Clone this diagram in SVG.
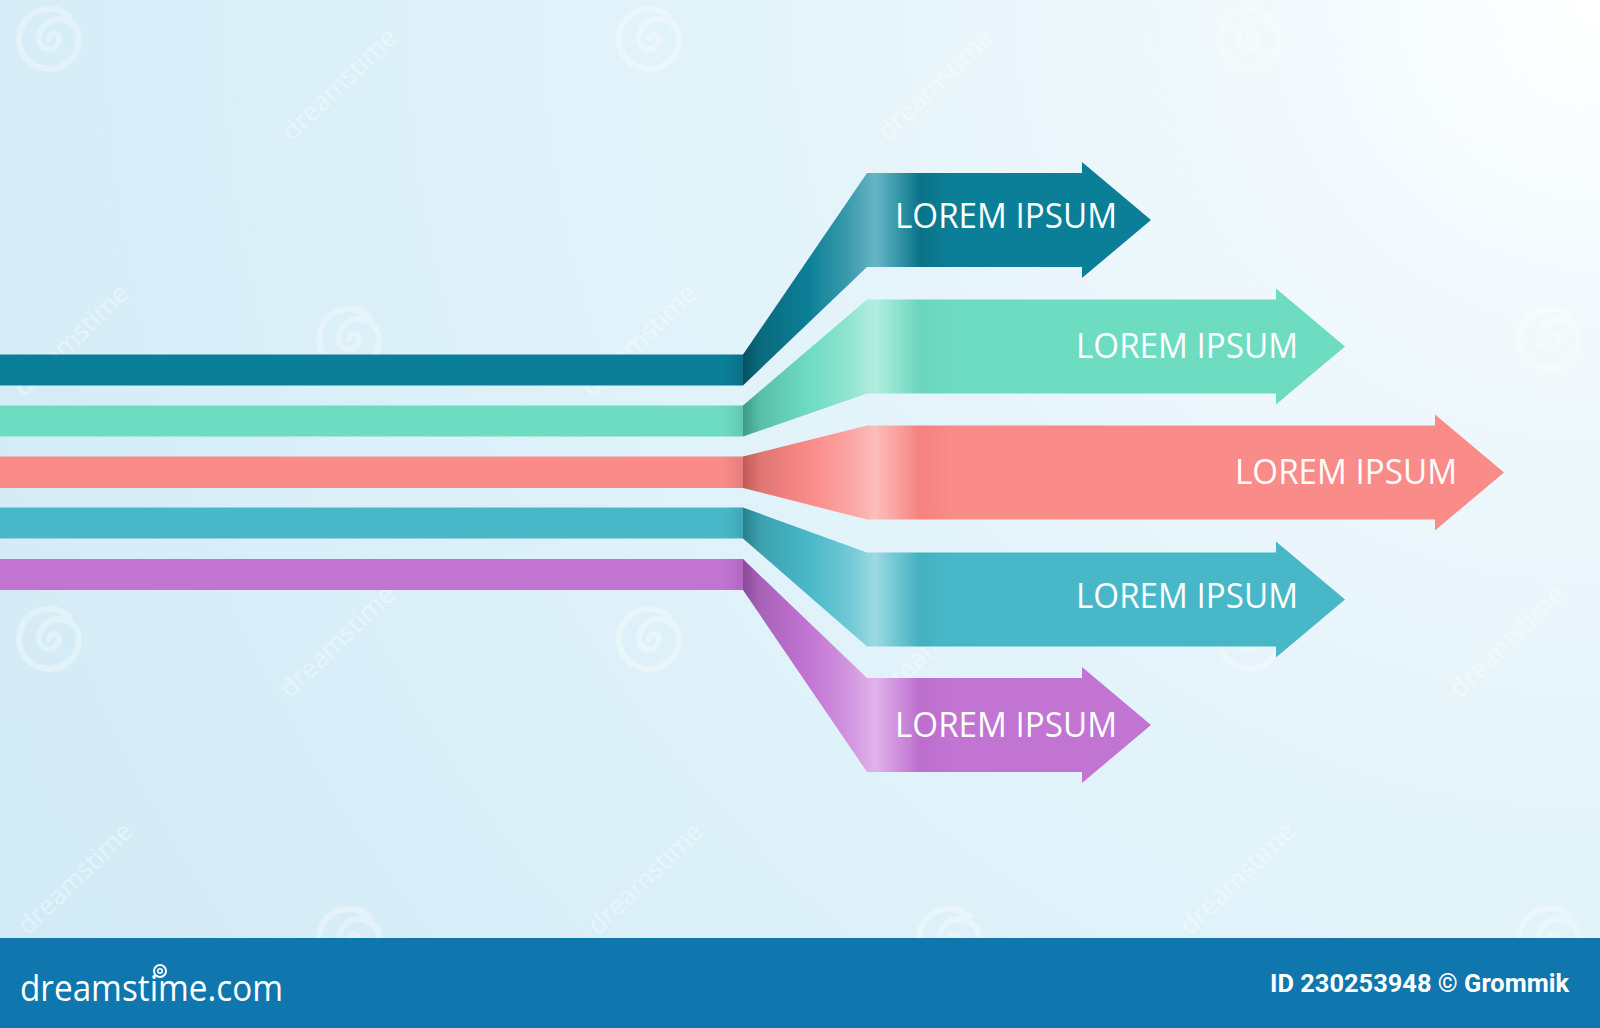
<svg xmlns="http://www.w3.org/2000/svg" width="1600" height="1028" viewBox="0 0 1600 1028">
  <defs>
    <radialGradient id="bg" gradientUnits="userSpaceOnUse" cx="1600" cy="0" r="1900">
      <stop offset="0" stop-color="#ffffff"/>
      <stop offset="0.15" stop-color="#f3fafd"/>
      <stop offset="0.45" stop-color="#e3f3fa"/>
      <stop offset="0.8" stop-color="#d7eef8"/>
      <stop offset="1" stop-color="#d2eaf6"/>
    </radialGradient>
    <linearGradient id="g1" gradientUnits="userSpaceOnUse" x1="0" y1="0" x2="1600" y2="0">
      <stop offset="0" stop-color="#0b7f97"/>
      <stop offset="0.452" stop-color="#0b7f97"/>
      <stop offset="0.4644" stop-color="#0a7087"/>
      <stop offset="0.4644" stop-color="#06505f"/>
      <stop offset="0.475" stop-color="#0a6a7e"/>
      <stop offset="0.505" stop-color="#0b7f97"/>
      <stop offset="0.530" stop-color="#3b9aac"/>
      <stop offset="0.547" stop-color="#67b6c4"/>
      <stop offset="0.560" stop-color="#3b9aac"/>
      <stop offset="0.575" stop-color="#0a7388"/>
      <stop offset="0.595" stop-color="#0b7f97"/>
      <stop offset="1" stop-color="#0b7f97"/>
    </linearGradient>
    <linearGradient id="g2" gradientUnits="userSpaceOnUse" x1="0" y1="0" x2="1600" y2="0">
      <stop offset="0" stop-color="#6edcc1"/>
      <stop offset="0.452" stop-color="#6edcc1"/>
      <stop offset="0.4644" stop-color="#62c8b0"/>
      <stop offset="0.4644" stop-color="#3b9a86"/>
      <stop offset="0.475" stop-color="#58bfa8"/>
      <stop offset="0.505" stop-color="#6edcc1"/>
      <stop offset="0.530" stop-color="#8fe4cf"/>
      <stop offset="0.547" stop-color="#b3eee0"/>
      <stop offset="0.560" stop-color="#8fe4cf"/>
      <stop offset="0.575" stop-color="#6ad5bb"/>
      <stop offset="0.595" stop-color="#6edcc1"/>
      <stop offset="1" stop-color="#6edcc1"/>
    </linearGradient>
    <linearGradient id="g3" gradientUnits="userSpaceOnUse" x1="0" y1="0" x2="1600" y2="0">
      <stop offset="0" stop-color="#f98b88"/>
      <stop offset="0.452" stop-color="#f98b88"/>
      <stop offset="0.4644" stop-color="#e67e7c"/>
      <stop offset="0.4644" stop-color="#c05a58"/>
      <stop offset="0.475" stop-color="#e07573"/>
      <stop offset="0.505" stop-color="#f98b88"/>
      <stop offset="0.530" stop-color="#fba3a1"/>
      <stop offset="0.547" stop-color="#fcbdbb"/>
      <stop offset="0.560" stop-color="#fba3a1"/>
      <stop offset="0.575" stop-color="#f4827f"/>
      <stop offset="0.595" stop-color="#f98b88"/>
      <stop offset="1" stop-color="#f98b88"/>
    </linearGradient>
    <linearGradient id="g4" gradientUnits="userSpaceOnUse" x1="0" y1="0" x2="1600" y2="0">
      <stop offset="0" stop-color="#48b8c8"/>
      <stop offset="0.452" stop-color="#48b8c8"/>
      <stop offset="0.4644" stop-color="#40a8b6"/>
      <stop offset="0.4644" stop-color="#27808c"/>
      <stop offset="0.475" stop-color="#3ca0ae"/>
      <stop offset="0.505" stop-color="#48b8c8"/>
      <stop offset="0.530" stop-color="#6fc8d4"/>
      <stop offset="0.547" stop-color="#9bdae2"/>
      <stop offset="0.560" stop-color="#6fc8d4"/>
      <stop offset="0.575" stop-color="#44b0bf"/>
      <stop offset="0.595" stop-color="#48b8c8"/>
      <stop offset="1" stop-color="#48b8c8"/>
    </linearGradient>
    <linearGradient id="g5" gradientUnits="userSpaceOnUse" x1="0" y1="0" x2="1600" y2="0">
      <stop offset="0" stop-color="#c274d3"/>
      <stop offset="0.452" stop-color="#c274d3"/>
      <stop offset="0.4644" stop-color="#b068c0"/>
      <stop offset="0.4644" stop-color="#8a4a9b"/>
      <stop offset="0.475" stop-color="#a862b8"/>
      <stop offset="0.505" stop-color="#c274d3"/>
      <stop offset="0.530" stop-color="#d194df"/>
      <stop offset="0.547" stop-color="#e0b3ea"/>
      <stop offset="0.560" stop-color="#d194df"/>
      <stop offset="0.575" stop-color="#bb6ecc"/>
      <stop offset="0.595" stop-color="#c274d3"/>
      <stop offset="1" stop-color="#c274d3"/>
    </linearGradient>
    <path id="spiral" d="M 0 0 A 5 5 0 0 1 10 0 A 10 10 0 0 1 -10 0 A 20 20 0 0 1 30 0 A 30 30 0 1 1 20.5 -22"/>
  </defs>
  <style>
    .label { font-family: "Open Sans", "Liberation Sans", sans-serif; font-size: 34px; fill: #ffffff; }
    .wm-spiral { fill: none; stroke: #ffffff; stroke-width: 6; stroke-linecap: round; opacity: 0.32; }
    .wm-text { font-family: "Open Sans", "DejaVu Sans", sans-serif; font-size: 26px; fill: #ffffff; opacity: 0.4; }
    .foot-logo { font-family: "Open Sans", "DejaVu Sans", sans-serif; font-size: 36px; fill: #ffffff; }
    .foot-id { font-family: Roboto, "Liberation Sans", sans-serif; font-weight: bold; font-size: 26.5px; fill: #ffffff; }
  </style>

  <rect id="background" x="0" y="0" width="1600" height="1028" fill="url(#bg)"/>

  <g id="watermark-spirals">
    <use href="#spiral" class="wm-spiral" x="49" y="39"/>
    <use href="#spiral" class="wm-spiral" x="649" y="39"/>
    <use href="#spiral" class="wm-spiral" x="1249" y="39"/>
    <use href="#spiral" class="wm-spiral" x="349" y="339"/>
    <use href="#spiral" class="wm-spiral" x="949" y="339"/>
    <use href="#spiral" class="wm-spiral" x="1549" y="339"/>
    <use href="#spiral" class="wm-spiral" x="49" y="639"/>
    <use href="#spiral" class="wm-spiral" x="649" y="639"/>
    <use href="#spiral" class="wm-spiral" x="1249" y="639"/>
    <use href="#spiral" class="wm-spiral" x="349" y="939"/>
    <use href="#spiral" class="wm-spiral" x="949" y="939"/>
    <use href="#spiral" class="wm-spiral" x="1549" y="939"/>
  </g>

  <g id="watermark-text">
    <text class="wm-text" transform="translate(292 142) rotate(-44)" textLength="148" lengthAdjust="spacingAndGlyphs">dreamstime</text>
    <text class="wm-text" transform="translate(888 142) rotate(-44)" textLength="148" lengthAdjust="spacingAndGlyphs">dreamstime</text>
    <text class="wm-text" transform="translate(1460 142) rotate(-44)" textLength="148" lengthAdjust="spacingAndGlyphs">dreamstime</text>
    <text class="wm-text" transform="translate(24 398) rotate(-44)" textLength="148" lengthAdjust="spacingAndGlyphs">dreamstime</text>
    <text class="wm-text" transform="translate(592 398) rotate(-44)" textLength="148" lengthAdjust="spacingAndGlyphs">dreamstime</text>
    <text class="wm-text" transform="translate(1190 398) rotate(-44)" textLength="148" lengthAdjust="spacingAndGlyphs">dreamstime</text>
    <text class="wm-text" transform="translate(290 699) rotate(-44)" textLength="148" lengthAdjust="spacingAndGlyphs">dreamstime</text>
    <text class="wm-text" transform="translate(888 699) rotate(-44)" textLength="148" lengthAdjust="spacingAndGlyphs">dreamstime</text>
    <text class="wm-text" transform="translate(1460 699) rotate(-44)" textLength="148" lengthAdjust="spacingAndGlyphs">dreamstime</text>
    <text class="wm-text" transform="translate(28 936) rotate(-44)" textLength="148" lengthAdjust="spacingAndGlyphs">dreamstime</text>
    <text class="wm-text" transform="translate(598 936) rotate(-44)" textLength="148" lengthAdjust="spacingAndGlyphs">dreamstime</text>
    <text class="wm-text" transform="translate(1190 936) rotate(-44)" textLength="148" lengthAdjust="spacingAndGlyphs">dreamstime</text>
  </g>

  <g id="arrow-1">
    <path fill="url(#g1)" d="M0 354.5 L743 354.5 L867 173 L1082 173 L1082 162 L1151 220 L1082 278 L1082 267 L867 267 L743 385.5 L0 385.5 Z"/>
    <text class="label" x="895" y="228" textLength="222" lengthAdjust="spacingAndGlyphs">LOREM IPSUM</text>
  </g>
  <g id="arrow-2">
    <path fill="url(#g2)" d="M0 405.5 L743 405.5 L867 299.5 L1276 299.5 L1276 288.5 L1345 346.5 L1276 404.5 L1276 393.5 L867 393.5 L743 436.5 L0 436.5 Z"/>
    <text class="label" x="1076" y="358" textLength="222" lengthAdjust="spacingAndGlyphs">LOREM IPSUM</text>
  </g>
  <g id="arrow-3">
    <path fill="url(#g3)" d="M0 456.5 L743 456.5 L867 425.5 L1435 425.5 L1435 414.5 L1504 472.5 L1435 530.5 L1435 519.5 L867 519.5 L743 488 L0 488 Z"/>
    <text class="label" x="1235" y="484" textLength="222" lengthAdjust="spacingAndGlyphs">LOREM IPSUM</text>
  </g>
  <g id="arrow-4">
    <path fill="url(#g4)" d="M0 507.5 L743 507.5 L867 552.5 L1276 552.5 L1276 541.5 L1345 599.5 L1276 657.5 L1276 646.5 L867 646.5 L743 538.5 L0 538.5 Z"/>
    <text class="label" x="1076" y="608" textLength="222" lengthAdjust="spacingAndGlyphs">LOREM IPSUM</text>
  </g>
  <g id="arrow-5">
    <path fill="url(#g5)" d="M0 559 L743 559 L867 678 L1082 678 L1082 667 L1151 725 L1082 783 L1082 772 L867 772 L743 590 L0 590 Z"/>
    <text class="label" x="895" y="737" textLength="222" lengthAdjust="spacingAndGlyphs">LOREM IPSUM</text>
  </g>

  <g id="footer">
    <rect x="0" y="938" width="1600" height="90" fill="#0f77ae"/>
    <text class="foot-logo" x="20" y="1001" textLength="263" lengthAdjust="spacingAndGlyphs">dreamstime.com</text>
    <circle cx="160" cy="971" r="6" fill="none" stroke="#ffffff" stroke-width="2"/>
    <circle cx="160" cy="971" r="2.2" fill="none" stroke="#ffffff" stroke-width="1.6"/>
    <text class="foot-id" x="1270" y="992" textLength="299" lengthAdjust="spacingAndGlyphs">ID 230253948 © Grommik</text>
  </g>
</svg>
